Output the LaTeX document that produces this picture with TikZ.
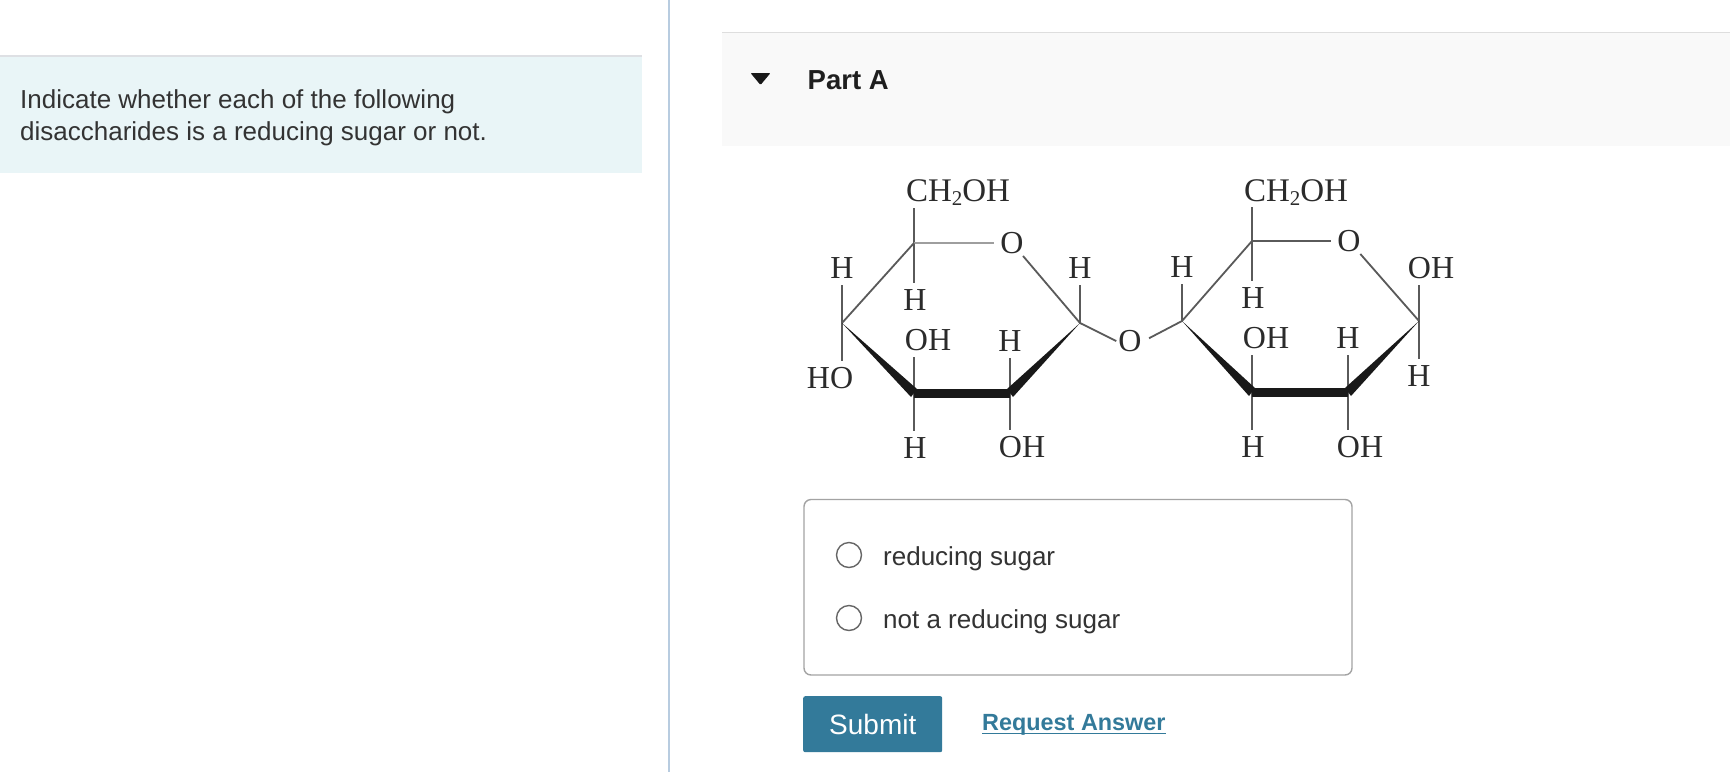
\documentclass[tikz,border=0pt]{standalone}
\usepackage{fontspec}
\setmainfont{Liberation Sans}
\newfontfamily\chemfont{Liberation Serif}
\definecolor{inktext}{HTML}{333333}
\definecolor{chemink}{HTML}{2B2B2B}
\definecolor{bondgray}{HTML}{5A5A5A}
\definecolor{teal}{HTML}{337A9A}
\definecolor{panelblue}{RGB}{233,245,247}
\definecolor{panelline}{RGB}{222,224,228}
\definecolor{divider}{RGB}{184,204,224}
\definecolor{partbg}{RGB}{249,249,249}
\definecolor{partline}{RGB}{222,222,222}
\tikzset{
  chem/.style={font=\chemfont\fontsize{32}{38}\selectfont,text=chemink,inner sep=6.5pt,anchor=center},
  oxy/.style={chem,inner sep=2pt},
  ch2/.style={chem,font=\chemfont\fontsize{33}{38}\selectfont,inner sep=0pt,anchor=base},
  bond/.style={draw=bondgray,line width=1.8pt},
  lightbond/.style={draw=black!38,line width=2pt},
  bar/.style={draw=black!90,line width=9pt},
  wedge/.style={fill=black!90},
  ui/.style={font=\fontsize{26}{32}\selectfont,text=inktext,inner sep=0pt,anchor=base west},
  radio/.style={circle,draw=black!60,line width=1.4pt,minimum size=25pt,inner sep=0pt,fill=white},
}
\newcommand{\subtwo}{\raisebox{-4pt}{\fontsize{21}{21}\selectfont 2}}
\begin{document}
\begin{tikzpicture}[x=1pt,y=-1pt]
\useasboundingbox (0,0) rectangle (1730,772);
\fill[white] (0,0) rectangle (1730,772);
% left panel
\fill[panelblue] (0,56) rectangle (642,172.5);
\fill[panelline] (0,55) rectangle (642,57);
\draw[divider,line width=1.5pt] (669,0) -- (669,772);
\node[ui] (l1) at (20,108) {Indicate whether each of the following};
\node[ui] (l2) at (20,140) {disaccharides is a reducing sugar or not.};
% part A
\fill[partbg] (722,32) rectangle (1730,146);
\fill[partline] (722,31.5) rectangle (1730,33);
\fill[black!90,rounded corners=1pt] (750.5,73) -- (770.5,73) -- (760.5,85) -- cycle;
\node[ui,font=\bfseries\fontsize{27.5}{32}\selectfont,text=black!88] (parta) at (807.5,89.5) {Part A};
% left ring
\coordinate (a1) at (914,243);
\coordinate (a2) at (842,323);
\coordinate (a3) at (914,393);
\coordinate (a4) at (1010,393);
\coordinate (a5) at (1080,323);
\node[ch2] (aCH) at (958,201) {CH\subtwo OH};
\node[oxy] (aO) at (1012,243) {O};
\node[chem] (aH1) at (915,300) {H};
\node[chem] (aH2) at (842,268) {H};
\node[chem] (aHO) at (830,378) {HO};
\node[chem] (aOH3) at (928,340) {OH};
\node[chem] (aH3) at (915,448) {H};
\node[chem] (aH4) at (1010,341) {H};
\node[chem] (aOH4) at (1022,447) {OH};
\node[chem] (aH5) at (1080,268) {H};
\node[oxy] (bridge) at (1130,341) {O};
% right ring
\coordinate (b1) at (1252,241);
\coordinate (b2) at (1182,321);
\coordinate (b3) at (1252,392);
\coordinate (b4) at (1348,392);
\coordinate (b5) at (1419,321);
\node[ch2] (bCH) at (1296,201) {CH\subtwo OH};
\node[oxy] (bO) at (1349,241) {O};
\node[chem] (bH1) at (1253,298) {H};
\node[chem] (bH2) at (1182,267) {H};
\node[chem] (bOH3) at (1266,338) {OH};
\node[chem] (bH3) at (1253,447) {H};
\node[chem] (bH4) at (1348,338) {H};
\node[chem] (bOH4) at (1360,447) {OH};
\node[chem] (bOH5) at (1431,268) {OH};
\node[chem] (bH5) at (1419,376) {H};
% left ring bonds
\draw[bond,shorten >=3pt] (a1) -- (a1 |- aCH.south);
\draw[bond] (a1) -- (a1 |- aH1.north);
\draw[lightbond] (a1) -- ([xshift=-4pt]aO.west);
\draw[bond] (aO) -- (a5);
\draw[bond] (a1) -- (a2);
\draw[bond] (a2) -- (a2 |- aH2.south);
\draw[bond] (a2) -- (a2 |- aHO.north);
\draw[bond] (a3) -- (a3 |- aOH3.south);
\draw[bond] (a3) -- (a3 |- aH3.north);
\draw[bond] (a4) -- (a4 |- aH4.south);
\draw[bond] (a4) -- (a4 |- aOH4.north);
\draw[bond] (a5) -- (a5 |- aH5.south);
\draw[bond] (a5) -- (bridge.west);
\fill[wedge] (a2) -- ([shift={(-3,4)}]a3) -- ([shift={(3,-4)}]a3) -- cycle;
\fill[wedge] (a5) -- ([shift={(3,4)}]a4) -- ([shift={(-3,-4)}]a4) -- cycle;
\draw[bar] (a3) -- (a4);
% right ring bonds
\draw[bond,shorten >=2pt] (b1) -- (b1 |- bCH.south);
\draw[bond] (b1) -- (b1 |- bH1.north);
\draw[bond] (b1) -- ([xshift=-4pt]bO.west);
\draw[bond] (bO) -- (b5);
\draw[bond] (b1) -- (b2);
\draw[bond] (b2) -- (b2 |- bH2.south);
\draw[bond,shorten >=6pt] (b2) -- (bridge.east);
\draw[bond] (b3) -- (b3 |- bOH3.south);
\draw[bond] (b3) -- (b3 |- bH3.north);
\draw[bond] (b4) -- (b4 |- bH4.south);
\draw[bond] (b4) -- (b4 |- bOH4.north);
\draw[bond] (b5) -- (b5 |- bOH5.south);
\draw[bond] (b5) -- (b5 |- bH5.north);
\fill[wedge] (b2) -- ([shift={(-3,4)}]b3) -- ([shift={(3,-4)}]b3) -- cycle;
\fill[wedge] (b5) -- ([shift={(3,4)}]b4) -- ([shift={(-3,-4)}]b4) -- cycle;
\draw[bar] (b3) -- (b4);
% answer box
\draw[black!36,line width=1.4pt,rounded corners=7pt] (804,499.5) rectangle (1352,675);
\node[radio] (r1) at (849,555) {};
\node[radio] (r2) at (849,618) {};
\node[ui] (t1) at (883,565) {reducing sugar};
\node[ui] (t2) at (883,628) {not a reducing sugar};
% buttons
\node[fill=teal,rounded corners=2pt,minimum width=139pt,minimum height=56pt,inner sep=0pt,anchor=north west] (sub) at (803,696) {};
\node[ui,font=\fontsize{28}{34}\selectfont,text=white] (subt) at (829,734) {Submit};
\node[ui,font=\bfseries\fontsize{23.4}{30}\selectfont,text=teal] (req) at (982,730.5) {Request Answer};
\draw[teal,line width=1.5pt] ([yshift=-3pt]req.base west) -- ([yshift=-3pt]req.base east);
\end{tikzpicture}
\end{document}
